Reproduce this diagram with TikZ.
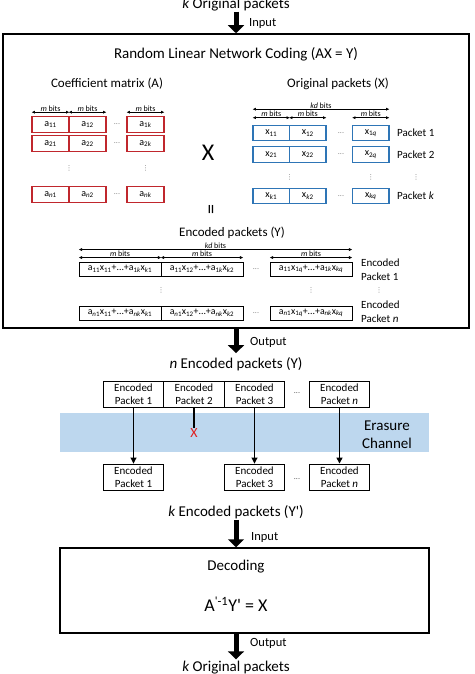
\documentclass[tikz,border=0pt]{standalone}
\usepackage{fontspec}
\setmainfont{Carlito}
\newfontfamily\dvsans{DejaVu Sans}
\usetikzlibrary{arrows.meta}
\definecolor{myred}{HTML}{C0272D}
\definecolor{myblue}{HTML}{2E75B6}
\definecolor{bandblue}{HTML}{BDD7EE}
\definecolor{xred}{HTML}{E02020}
\newcommand\sbx[1]{\textsubscript{#1}}
\newcommand\fsz[1]{\fontsize{#1}{#1}\selectfont}
\begin{document}
\begin{tikzpicture}[x=1pt,y=-1pt,
  txt/.style={inner sep=0pt},
  rcell/.style={draw=myred, line width=1.1pt, minimum width=37pt, minimum height=15.5pt, inner sep=0pt, font=\fsz{10}},
  bcell/.style={rcell, draw=myblue, minimum width=36.5pt},
  ecell/.style={draw=black, line width=0.9pt, minimum width=82pt, minimum height=14pt, inner sep=0pt, font=\fsz{9.8}},
  pbox/.style={draw, line width=0.9pt, minimum width=60.5pt, minimum height=26pt, inner sep=0pt, align=center, font=\fontsize{11}{13}\selectfont},
  fat/.style={line width=5pt, -{Triangle[length=8pt,width=16pt]}},
  dimarr/.style={{Latex[length=3.5pt,width=3.2pt]}-{Latex[length=3.5pt,width=3.2pt]}, line width=0.8pt},
  bitlab/.style={inner sep=0.6pt, font=\fsz{8}},
  hd/.style={inner sep=0pt, text=gray, font=\fsz{8}},
  vd/.style={inner sep=0pt, text=gray, font=\dvsans\fsz{7}},
  thinarr/.style={-{Triangle[length=6pt,width=6pt]}, line width=0.9pt},
  iolab/.style={inner sep=0pt, font=\fsz{12.5}, anchor=west},
  head/.style={inner sep=0pt, font=\fsz{15}},
  sub/.style={inner sep=0pt, font=\fsz{13}},
  plab/.style={inner sep=0pt, font=\fsz{11}, anchor=west},
  elab/.style={inner sep=0pt, font=\fontsize{11}{14}\selectfont, anchor=west, align=left}
]
\useasboundingbox (0,0) rectangle (474,674);

% top
\node[head] (orig1) at (236,5) {\textit{k} Original packets};
\node[draw, line width=1.5pt, minimum width=466pt, minimum height=294pt, inner sep=0pt] (rlnc) at (236,181) {};
\draw[fat] (orig1.south) -- (rlnc.north);
\node[iolab] (in1) at (249,23) {Input};

\node[head] (title) at (236,54) {Random Linear Network Coding (AX = Y)};
\node[sub] (coef) at (107,84) {Coefficient matrix (A)};
\node[sub] (origx) at (338,84) {Original packets (X)};

% red matrix
\node[rcell] (r11) at (50.5,124.5) {a\sbx{11}};
\node[rcell] (r12) at (87.5,124.5) {a\sbx{12}};
\node[rcell] (r1k) at (145.5,124.5) {a\sbx{1\textit{k}}};
\node[rcell] (r21) at (50.5,143.5) {a\sbx{21}};
\node[rcell] (r22) at (87.5,143.5) {a\sbx{22}};
\node[rcell] (r2k) at (145.5,143.5) {a\sbx{2\textit{k}}};
\node[rcell] (rn1) at (50.5,194.5) {a\sbx{\textit{n}1}};
\node[rcell] (rn2) at (87.5,194.5) {a\sbx{\textit{n}2}};
\node[rcell] (rnk) at (145.5,194.5) {a\sbx{\textit{nk}}};
\node[hd] (rh1) at (117,124.5) {...};
\node[hd] (rh2) at (117,143.5) {...};
\node[hd] (rh3) at (117,194.5) {...};
\node[vd] (rv1) at (69,168) {⋮};
\node[vd] (rv2) at (145.5,168) {⋮};
\draw[dimarr] ([yshift=4pt]r11.north west) -- ([yshift=4pt]r11.north east) node[midway, above, bitlab] (rb1) {\textit{m} bits};
\draw[dimarr] ([yshift=4pt]r12.north west) -- ([yshift=4pt]r12.north east) node[midway, above, bitlab] (rb2) {\textit{m} bits};
\draw[dimarr] ([yshift=4pt]r1k.north west) -- ([yshift=4pt]r1k.north east) node[midway, above, bitlab] (rb3) {\textit{m} bits};

\node[inner sep=0pt, font=\fsz{24}] (times) at (208,153) {X};
\node[inner sep=0pt, font=\fsz{20}, rotate=90] (equal) at (213,210) {=};

% blue matrix
\node[bcell] (b11) at (271.25,133) {x\sbx{11}};
\node[bcell] (b12) at (307.75,133) {x\sbx{12}};
\node[bcell] (b1q) at (370.75,133) {x\sbx{1\textit{q}}};
\node[bcell] (b21) at (271.25,154.5) {x\sbx{21}};
\node[bcell] (b22) at (307.75,154.5) {x\sbx{22}};
\node[bcell] (b2q) at (370.75,154.5) {x\sbx{2\textit{q}}};
\node[bcell] (bk1) at (271.25,196) {x\sbx{\textit{k}1}};
\node[bcell] (bk2) at (307.75,196) {x\sbx{\textit{k}2}};
\node[bcell] (bkq) at (370.75,196) {x\sbx{\textit{kq}}};
\node[hd] (bh1) at (341,133) {...};
\node[hd] (bh2) at (341,154.5) {...};
\node[hd] (bh3) at (341,196) {...};
\node[vd] (bv1) at (289.5,177) {⋮};
\node[vd] (bv2) at (370.75,177) {⋮};
\node[vd] (bv3) at (416,177) {⋮};
\draw[dimarr] ([yshift=7pt]b11.north west) -- ([yshift=7pt]b11.north east) node[midway, above, bitlab] (bb1) {\textit{m} bits};
\draw[dimarr] ([yshift=7pt]b12.north west) -- ([yshift=7pt]b12.north east) node[midway, above, bitlab] (bb2) {\textit{m} bits};
\draw[dimarr] ([yshift=7pt]b1q.north west) -- ([yshift=7pt]b1q.north east) node[midway, above, bitlab] (bb3) {\textit{m} bits};
\draw[dimarr] ([yshift=15.5pt]b11.north west) -- ([yshift=15.5pt]b1q.north east) node[midway, above, bitlab] (bkd) {\textit{kd} bits};
\node[plab] (p1) at (397,133) {Packet 1};
\node[plab] (p2) at (397,154.5) {Packet 2};
\node[plab] (pk) at (397,196) {Packet \textit{k}};

% encoded packets
\node[sub] (ency) at (232,233) {Encoded packets (Y)};
\node[ecell] (e11) at (120,269) {a\sbx{11}x\sbx{11}+...+a\sbx{1\textit{k}}x\sbx{\textit{k}1}};
\node[ecell] (e12) at (202,269) {a\sbx{11}x\sbx{12}+...+a\sbx{1\textit{k}}x\sbx{\textit{k}2}};
\node[ecell] (e1q) at (311,269) {a\sbx{11}x\sbx{1\textit{q}}+...+a\sbx{1\textit{k}}x\sbx{\textit{kq}}};
\node[ecell] (en1) at (120,313) {a\sbx{\textit{n}1}x\sbx{11}+...+a\sbx{\textit{nk}}x\sbx{\textit{k}1}};
\node[ecell] (en2) at (202,313) {a\sbx{\textit{n}1}x\sbx{12}+...+a\sbx{\textit{nk}}x\sbx{\textit{k}2}};
\node[ecell] (enq) at (311,313) {a\sbx{\textit{n}1}x\sbx{1\textit{q}}+...+a\sbx{\textit{nk}}x\sbx{\textit{kq}}};
\node[hd] (eh1) at (256,269) {...};
\node[hd] (eh2) at (256,313) {...};
\node[vd] (ev1) at (161,290) {⋮};
\node[vd] (ev2) at (311,290) {⋮};
\node[vd] (ev3) at (379,290) {⋮};
\draw[dimarr] ([yshift=4pt]e11.north west) -- ([yshift=4pt]e11.north east) node[midway, above, bitlab] (eb1) {\textit{m} bits};
\draw[dimarr] ([yshift=4pt]e12.north west) -- ([yshift=4pt]e12.north east) node[midway, above, bitlab] (eb2) {\textit{m} bits};
\draw[dimarr] ([yshift=4pt]e1q.north west) -- ([yshift=4pt]e1q.north east) node[midway, above, bitlab] (eb3) {\textit{m} bits};
\draw[dimarr] ([yshift=12pt]e11.north west) -- ([yshift=12pt]e1q.north east) node[midway, above, bitlab] (ekd) {\textit{kd} bits};
\node[elab] (el1) at (361,270) {Encoded\\Packet 1};
\node[elab] (eln) at (361,312) {Encoded\\Packet \textit{n}};

% output of RLNC
\node[head] (nenc) at (236,364) {\textit{n} Encoded packets (Y)};
\draw[fat, shorten >=4pt] (rlnc.south) -- (nenc.north);
\node[iolab] (out1) at (250,342) {Output};

% erasure channel
\node[fill=bandblue, minimum width=369pt, minimum height=39pt, inner sep=0pt] (band) at (244.5,432.5) {};
\node[inner sep=0pt, font=\fontsize{15}{17.5}\selectfont, align=center] (erase) at (387,434.5) {Erasure\\Channel};

\node[pbox] (t1) at (133.5,394) {Encoded\\Packet 1};
\node[pbox] (t2) at (194,394) {Encoded\\Packet 2};
\node[pbox] (t3) at (254.5,394) {Encoded\\Packet 3};
\node[pbox] (tn) at (339.5,394) {Encoded\\Packet \textit{n}};
\node[hd, text=black!70] (th) at (297,393) {...};

\node[pbox] (u1) at (133.5,477) {Encoded\\Packet 1};
\node[pbox] (u3) at (254.5,477) {Encoded\\Packet 3};
\node[pbox] (un) at (339.5,477) {Encoded\\Packet \textit{n}};
\node[hd, text=black!70] (uh) at (297,479) {...};

\node[inner sep=0pt, text=xred, font=\fsz{14}] (lost) at (194,433) {X};
\draw[line width=1.6pt] (t2.south) -- (lost.north);
\draw[thinarr] (t1.south) -- (u1.north);
\draw[thinarr] (t3.south) -- (u3.north);
\draw[thinarr, line width=1.3pt] (tn.south) -- (un.north);

% decoding
\node[head] (kenc) at (236,512) {\textit{k} Encoded packets (Y\textquotesingle)};
\node[draw, line width=1.5pt, minimum width=369pt, minimum height=85pt, inner sep=0pt] (dec) at (244.5,590.5) {};
\draw[fat, shorten <=1pt] (kenc.south) -- (kenc.south |- dec.north);
\node[iolab] (in2) at (251,537) {Input};
\node[head] (dectxt) at (236,567) {Decoding};
\node[inner sep=0pt, font=\fsz{18}] (formula) at (236,604) {A\textsuperscript{\textquotesingle-1}Y\textquotesingle{} = X};
\node[head] (orig2) at (236,668) {\textit{k} Original packets};
\draw[fat, shorten >=2pt] (orig2.north |- dec.south) -- (orig2.north);
\node[iolab] (out2) at (250,643) {Output};
\end{tikzpicture}
\end{document}
